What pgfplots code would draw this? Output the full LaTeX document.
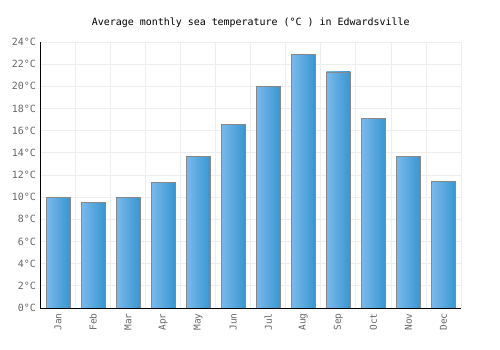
\documentclass[border=0pt]{standalone}
\usepackage{fontspec}
\setmainfont{DejaVu Sans Mono}
\usepackage{pgfplots}
\pgfplotsset{compat=1.18}
\definecolor{gridc}{HTML}{EEEEEE}
\definecolor{tickc}{HTML}{666666}
\definecolor{barl}{HTML}{7AB9EC}
\definecolor{barr}{HTML}{3896D0}
\definecolor{edgec}{HTML}{888888}
\tikzset{mybar/.style={draw=edgec, line width=0.8pt, left color=barl, right color=barr}}
\begin{document}
\begin{tikzpicture}
\path (-40.5bp,-42bp) rectangle (459.5bp,308bp);
\begin{axis}[
  at={(0,0)}, anchor=south west,
  scale only axis, width=420.5bp, height=266bp,
  ymin=0, ymax=24, ytick={0,2,...,24},
  xmin=-0.5, xmax=11.5,
  xtick={0,...,11},
  xticklabels={Jan,Feb,Mar,Apr,May,Jun,Jul,Aug,Sep,Oct,Nov,Dec},
  minor xtick={-0.5,0.5,...,11.5},
  xminorgrids, ymajorgrids,
  grid style={gridc, line width=0.8pt},
  minor grid style={gridc, line width=0.8pt},
  axis x line*=bottom, axis y line*=left,
  axis line style={black, line width=0.8pt, -},
  major tick length=0pt, minor tick length=0pt,
  /pgf/number format/assume math mode=true,
  yticklabel={\pgfmathprintnumber{\tick}°C},
  yticklabel style={font=\fontsize{10}{12}\selectfont, text=tickc, xshift=-1bp},
  xticklabel style={font=\fontsize{9.5}{12}\selectfont, text=tickc, rotate=90, anchor=east, xshift=-2bp},
  title={Average monthly sea temperature (°C ) in Edwardsville},
  title style={font=\fontsize{10}{12}\selectfont, yshift=5bp},
  ybar, bar width=24bp, bar shift=0pt,
]
\addplot[mybar] coordinates {(0,10.0)};
\addplot[mybar] coordinates {(1,9.5)};
\addplot[mybar] coordinates {(2,10.0)};
\addplot[mybar] coordinates {(3,11.3)};
\addplot[mybar] coordinates {(4,13.7)};
\addplot[mybar] coordinates {(5,16.6)};
\addplot[mybar] coordinates {(6,20.0)};
\addplot[mybar] coordinates {(7,22.9)};
\addplot[mybar] coordinates {(8,21.3)};
\addplot[mybar] coordinates {(9,17.1)};
\addplot[mybar] coordinates {(10,13.7)};
\addplot[mybar] coordinates {(11,11.4)};
\end{axis}
\end{tikzpicture}
\end{document}
